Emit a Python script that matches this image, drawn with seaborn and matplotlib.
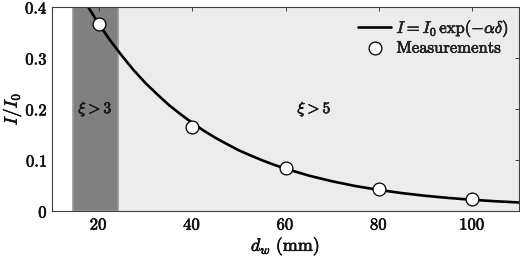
import matplotlib
matplotlib.use("Agg")
import matplotlib.pyplot as plt
import matplotlib.patheffects as pe
import seaborn as sns
import pandas as pd

# Measurements
meas_dw = [20, 40, 60, 80, 100]
meas_I = [0.367, 0.165, 0.084, 0.043, 0.0235]

# Fitted curve I = I0 exp(-alpha*delta)
curve_dw = [17, 20, 22.5, 25, 27.5, 30, 32.5, 35, 37.5, 40, 42.5, 45, 47.5, 50, 52.5,
            55, 57.5, 60, 65, 70, 75, 80, 85, 90, 95, 100, 105, 110]
curve_I = [0.411, 0.367, 0.334, 0.304, 0.276, 0.251, 0.229, 0.208, 0.190, 0.173, 0.1575,
           0.1435, 0.131, 0.119, 0.109, 0.0994, 0.0908, 0.083, 0.0694, 0.0582, 0.0489,
           0.0413, 0.035, 0.0298, 0.0255, 0.022, 0.0191, 0.0167]

# Regions
dark_region = (14.5, 24.2)
light_region = (24.2, 110)
region_labels = [r"$\xi > 3$", r"$\xi > 5$"]
region_label_x = [19.3, 66.2]
region_label_y = [0.2, 0.2]

xticks = [20, 40, 60, 80, 100]
yticks = [0, 0.1, 0.2, 0.3, 0.4]
ytick_labels = ["0", "0.1", "0.2", "0.3", "0.4"]

sns.set_theme(style="white")
plt.rcParams["mathtext.fontset"] = "cm"
plt.rcParams["font.family"] = ["DejaVu Serif"]

fig = plt.figure(figsize=(5.2, 2.59), dpi=100)
ax = fig.add_axes([52 / 520, 1 - 211 / 259, (519 - 52) / 520, (211 - 7) / 259])

ax.axvspan(light_region[0], light_region[1], color="#ececec", lw=0, zorder=0)
ax.axvspan(dark_region[0], dark_region[1], facecolor="#808080", edgecolor="#9a9a9a", lw=1.2, zorder=0.5)

curve_df = pd.DataFrame({"dw": curve_dw, "I": curve_I})
meas_df = pd.DataFrame({"dw": meas_dw, "I": meas_I})

sns.lineplot(data=curve_df, x="dw", y="I", ax=ax, color="black", lw=1.9,
             label=r"$I = I_0\,\exp(-\alpha\delta)$", zorder=3)
sns.scatterplot(data=meas_df, x="dw", y="I", ax=ax, s=85, facecolor="white",
                edgecolor="black", linewidth=0.9, zorder=4,
                label=r"$\mathrm{Measurements}$")

bold = [pe.withStroke(linewidth=0.45, foreground="#111111")]

for t, x, y in zip(region_labels, region_label_x, region_label_y):
    ax.text(x, y, t, ha="center", va="center", fontsize=11.5, color="#1a1a1a",
            path_effects=bold)

ax.set_xlim(10, 110)
ax.set_ylim(0, 0.4)
ax.set_xticks(xticks)
ax.set_xticklabels([r"$%d$" % v for v in xticks])
ax.set_yticks(yticks)
ax.set_yticklabels([r"$\mathrm{%s}$" % s for s in ytick_labels])
ax.tick_params(direction="in", length=3, width=0.6, colors="#262626",
               labelcolor="#111111", labelsize=12, top=True, right=True, pad=4)
ax.tick_params(axis="y", pad=3)
for lab in ax.get_xticklabels() + ax.get_yticklabels():
    lab.set_path_effects(bold)
for sp in ax.spines.values():
    sp.set_color("#404040")
    sp.set_linewidth(0.8)
    sp.set_zorder(5)

xl = ax.set_xlabel(r"$d_w\ \mathrm{(mm)}$", fontsize=13, color="#111111", labelpad=1)
yl = ax.set_ylabel(r"$I/I_0$", fontsize=13, color="#111111", labelpad=1)
xl.set_path_effects(bold)
yl.set_path_effects(bold)

leg = ax.legend(loc="upper right", frameon=False, fontsize=12, handlelength=2.0,
                handletextpad=0.3, borderaxespad=0.2, labelspacing=0.0,
                bbox_to_anchor=(1.0, 1.0))
leg.set_zorder(6)
for t in leg.get_texts():
    t.set_path_effects(bold)

fig.savefig("out.png", dpi=100)
